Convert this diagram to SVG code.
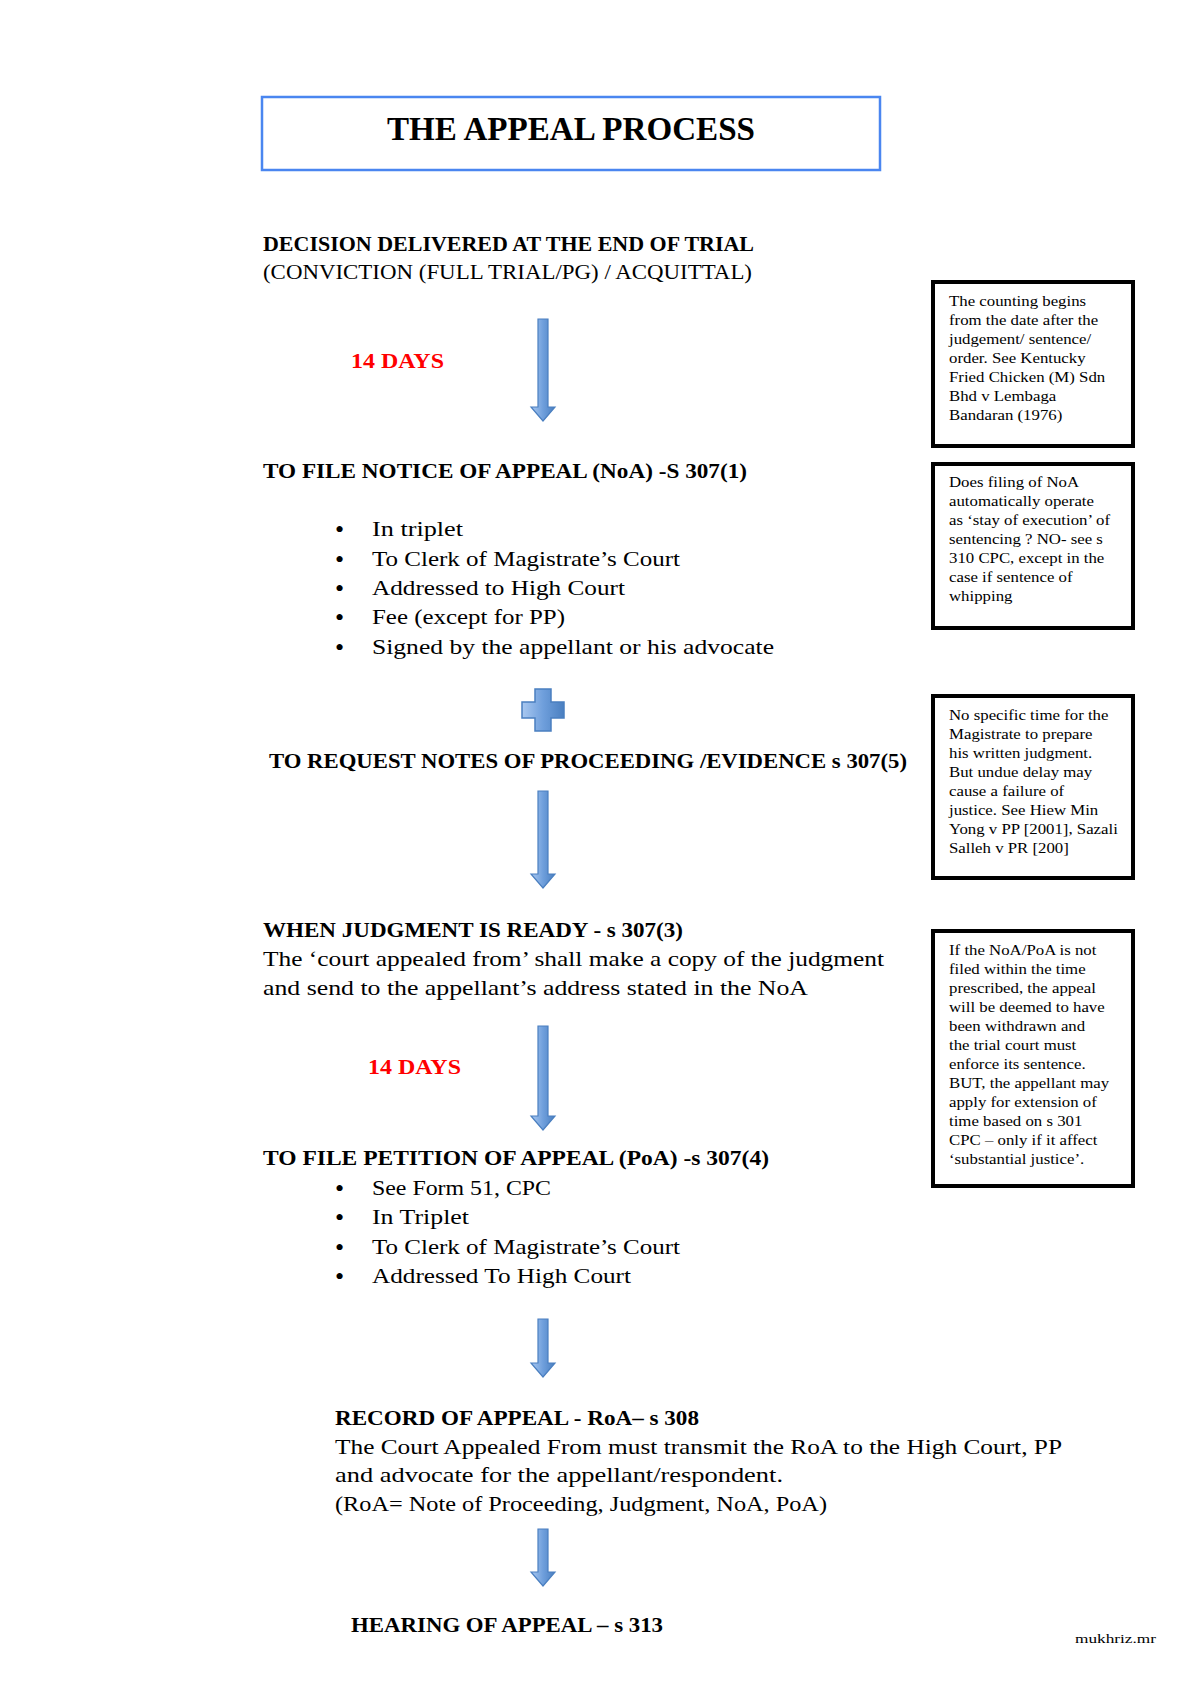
<svg xmlns="http://www.w3.org/2000/svg" width="1200" height="1696" viewBox="0 0 1200 1696">
<style>
text{font-family:"Liberation Serif","DejaVu Serif",serif;fill:#000}
.h{font-size:22px;font-weight:bold}
.t{font-size:22px}
.b{font-size:26px}
.red{font-size:22px;font-weight:bold;fill:#ff0000}
.box text{font-size:14px}
.side{fill:#fff;stroke:#000;stroke-width:4}
</style>
<defs>
<linearGradient id="ag" x1="0" y1="0" x2="1" y2="0">
<stop offset="0" stop-color="#a9c8f0"/>
<stop offset="0.5" stop-color="#6f9fdc"/>
<stop offset="1" stop-color="#4a7fc0"/>
</linearGradient>
</defs>
<rect width="1200" height="1696" fill="#fff"/>

<g id="title">
<rect x="262" y="97" width="618" height="73" fill="#fff" stroke="#4a86f0" stroke-width="2.5"/>
<text x="571" y="140" text-anchor="middle" font-size="33" font-weight="bold" textLength="368" lengthAdjust="spacingAndGlyphs">THE APPEAL PROCESS</text>
</g>

<g id="decision">
<text class="h" x="263" y="251" textLength="491" lengthAdjust="spacingAndGlyphs">DECISION DELIVERED AT THE END OF TRIAL</text>
<text class="t" x="263" y="279" textLength="489" lengthAdjust="spacingAndGlyphs">(CONVICTION (FULL TRIAL/PG) / ACQUITTAL)</text>
</g>

<g id="days1"><text class="red" x="351" y="368" textLength="93" lengthAdjust="spacingAndGlyphs">14 DAYS</text></g>

<g id="noa">
<text class="h" x="263" y="478" textLength="484" lengthAdjust="spacingAndGlyphs">TO FILE NOTICE OF APPEAL (NoA) -S 307(1)</text>
<text class="b" x="335" y="538">•</text><text class="t" x="372" y="536" textLength="91" lengthAdjust="spacingAndGlyphs">In triplet</text>
<text class="b" x="335" y="568">•</text><text class="t" x="372" y="566" textLength="308" lengthAdjust="spacingAndGlyphs">To Clerk of Magistrate’s Court</text>
<text class="b" x="335" y="597">•</text><text class="t" x="372" y="595" textLength="253" lengthAdjust="spacingAndGlyphs">Addressed to High Court</text>
<text class="b" x="335" y="626">•</text><text class="t" x="372" y="624" textLength="193" lengthAdjust="spacingAndGlyphs">Fee (except for PP)</text>
<text class="b" x="335" y="656">•</text><text class="t" x="372" y="654" textLength="402" lengthAdjust="spacingAndGlyphs">Signed by the appellant or his advocate</text>
</g>

<g id="plus">
<path d="M535,689 H551 V702 H564 V718 H551 V731 H535 V718 H522 V702 H535 Z" fill="url(#ag)" stroke="#4a7fc0" stroke-width="1.5"/>
</g>

<g id="request">
<text class="h" x="269" y="768" textLength="638" lengthAdjust="spacingAndGlyphs">TO REQUEST NOTES OF PROCEEDING /EVIDENCE s 307(5)</text>
</g>

<g id="judgment">
<text class="h" x="263" y="937" textLength="420" lengthAdjust="spacingAndGlyphs">WHEN JUDGMENT IS READY - s 307(3)</text>
<text class="t" x="263" y="966" textLength="621" lengthAdjust="spacingAndGlyphs">The ‘court appealed from’ shall make a copy of the judgment</text>
<text class="t" x="263" y="995" textLength="545" lengthAdjust="spacingAndGlyphs">and send to the appellant’s address stated in the NoA</text>
</g>

<g id="days2"><text class="red" x="368" y="1074" textLength="93" lengthAdjust="spacingAndGlyphs">14 DAYS</text></g>

<g id="poa">
<text class="h" x="263" y="1165" textLength="506" lengthAdjust="spacingAndGlyphs">TO FILE PETITION OF APPEAL (PoA) -s 307(4)</text>
<text class="b" x="335" y="1197">•</text><text class="t" x="372" y="1195" textLength="179" lengthAdjust="spacingAndGlyphs">See Form 51, CPC</text>
<text class="b" x="335" y="1226">•</text><text class="t" x="372" y="1224" textLength="97" lengthAdjust="spacingAndGlyphs">In Triplet</text>
<text class="b" x="335" y="1256">•</text><text class="t" x="372" y="1254" textLength="308" lengthAdjust="spacingAndGlyphs">To Clerk of Magistrate’s Court</text>
<text class="b" x="335" y="1285">•</text><text class="t" x="372" y="1283" textLength="259" lengthAdjust="spacingAndGlyphs">Addressed To High Court</text>
</g>

<g id="record">
<text class="h" x="335" y="1425" textLength="364" lengthAdjust="spacingAndGlyphs">RECORD OF APPEAL - RoA– s 308</text>
<text class="t" x="335" y="1454" textLength="727" lengthAdjust="spacingAndGlyphs">The Court Appealed From must transmit the RoA to the High Court, PP</text>
<text class="t" x="335" y="1482" textLength="448" lengthAdjust="spacingAndGlyphs">and advocate for the appellant/respondent.</text>
<text class="t" x="335" y="1511" textLength="492" lengthAdjust="spacingAndGlyphs">(RoA= Note of Proceeding, Judgment, NoA, PoA)</text>
</g>

<g id="hearing">
<text class="h" x="351" y="1632" textLength="312" lengthAdjust="spacingAndGlyphs">HEARING OF APPEAL – s 313</text>
</g>

<g id="note1" class="box">
<rect class="side" x="933" y="282" width="200" height="164"/>
<g transform="matrix(1.2,0,0,1,949,0)">
<text x="0" y="306">The counting begins</text>
<text x="0" y="325">from the date after the</text>
<text x="0" y="344">judgement/ sentence/</text>
<text x="0" y="363">order. See Kentucky</text>
<text x="0" y="382">Fried Chicken (M) Sdn</text>
<text x="0" y="401">Bhd v Lembaga</text>
<text x="0" y="420">Bandaran (1976)</text>
</g>
</g>

<g id="note2" class="box">
<rect class="side" x="933" y="464" width="200" height="164"/>
<g transform="matrix(1.2,0,0,1,949,0)">
<text x="0" y="487">Does filing of NoA</text>
<text x="0" y="506">automatically operate</text>
<text x="0" y="525">as ‘stay of execution’ of</text>
<text x="0" y="544">sentencing ? NO- see s</text>
<text x="0" y="563">310 CPC, except in the</text>
<text x="0" y="582">case if sentence of</text>
<text x="0" y="601">whipping</text>
</g>
</g>

<g id="note3" class="box">
<rect class="side" x="933" y="696" width="200" height="182"/>
<g transform="matrix(1.2,0,0,1,949,0)">
<text x="0" y="720">No specific time for the</text>
<text x="0" y="739">Magistrate to prepare</text>
<text x="0" y="758">his written judgment.</text>
<text x="0" y="777">But undue delay may</text>
<text x="0" y="796">cause a failure of</text>
<text x="0" y="815">justice.  See Hiew Min</text>
<text x="0" y="834">Yong v PP [2001], Sazali</text>
<text x="0" y="853">Salleh v PR [200]</text>
</g>
</g>

<g id="note4" class="box">
<rect class="side" x="933" y="931" width="200" height="255"/>
<g transform="matrix(1.2,0,0,1,949,0)">
<text x="0" y="955">If the NoA/PoA is not</text>
<text x="0" y="974">filed within the time</text>
<text x="0" y="993">prescribed, the appeal</text>
<text x="0" y="1012">will be deemed to have</text>
<text x="0" y="1031">been withdrawn and</text>
<text x="0" y="1050">the trial court must</text>
<text x="0" y="1069">enforce its sentence.</text>
<text x="0" y="1088">BUT, the appellant may</text>
<text x="0" y="1107">apply for extension of</text>
<text x="0" y="1126">time based on s 301</text>
<text x="0" y="1145">CPC – only if it affect</text>
<text x="0" y="1164">‘substantial justice’.</text>
</g>
</g>

<g id="signature"><text x="1075" y="1643" font-size="13" textLength="81" lengthAdjust="spacingAndGlyphs">mukhriz.mr</text></g>

<g id="connectors" fill="url(#ag)" stroke="#4a7fc0" stroke-width="1.2">
<path d="M538,319 H548 V407 H555 L543,421 L531,407 H538 Z"/>
<path d="M538,791 H548 V874 H555 L543,888 L531,874 H538 Z"/>
<path d="M538,1026 H548 V1116 H555 L543,1130 L531,1116 H538 Z"/>
<path d="M538,1319 H548 V1363 H555 L543,1377 L531,1363 H538 Z"/>
<path d="M538,1529 H548 V1572 H555 L543,1586 L531,1572 H538 Z"/>
</g>
</svg>
